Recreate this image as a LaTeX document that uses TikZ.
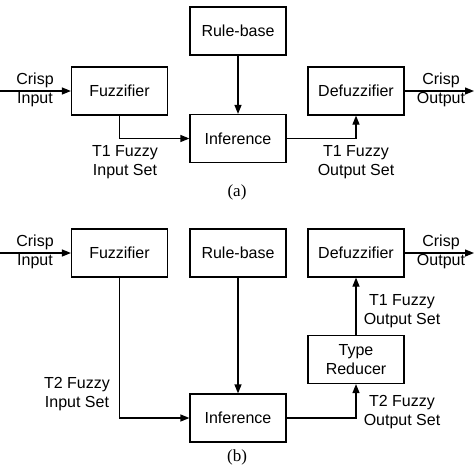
\documentclass[tikz,border=0pt]{standalone}
\usepackage{fontspec}
\setmainfont{Liberation Serif}
\setsansfont{Liberation Sans}
\usetikzlibrary{arrows.meta}
\begin{document}
\begin{tikzpicture}[x=1pt,y=-1pt,
  blk/.style={draw,line width=1.2pt,minimum width=96pt,minimum height=48pt,inner sep=0pt,align=center,font=\sffamily\fontsize{16}{19}\selectfont},
  lbl/.style={align=center,inner sep=0pt,font=\sffamily\fontsize{16}{19}\selectfont},
  captxt/.style={inner sep=0pt,font=\fontsize{17}{20}\selectfont},
  arr/.style={line width=1.2pt,-{Triangle[length=9pt,width=7pt]}}]
\useasboundingbox (0,0) rectangle (474,474);
% (a)
\node[blk] (rule1) at (238,31) {Rule-base};
\node[blk] (fuzz1) at (119.5,91) {Fuzzifier};
\node[blk] (inf1) at (238,138.5) {Inference};
\node[blk] (defz1) at (356,91) {Defuzzifier};
\coordinate (in1) at (0,91);
\coordinate (out1) at (474,91);
\draw[arr] (in1) -- (fuzz1.west);
\draw[arr] (defz1.east) -- (out1);
\draw[arr] (rule1.south) -- (inf1.north);
\draw[arr] (fuzz1.south) |- (inf1.west);
\draw[arr] (inf1.east) -| (defz1.south);
\node[lbl] (l1) at (35,90) {Crisp\\Input};
\node[lbl] (l2) at (441,90) {Crisp\\Output};
\node[lbl] (l3) at (125,162) {T1 Fuzzy\\Input Set};
\node[lbl] (l4) at (356,162) {T1 Fuzzy\\Output Set};
\node[captxt] (ca) at (237,192) {(a)};
% (b)
\node[blk] (fuzz2) at (119.5,253) {Fuzzifier};
\node[blk] (rule2) at (238,253) {Rule-base};
\node[blk] (defz2) at (356,253) {Defuzzifier};
\node[blk] (inf2) at (238,418) {Inference};
\node[blk] (tr2) at (356,359.5) {Type\\Reducer};
\coordinate (in2) at (0,253);
\coordinate (out2) at (474,253);
\draw[arr] (in2) -- (fuzz2.west);
\draw[arr] (defz2.east) -- (out2);
\draw[arr] (rule2.south) -- (inf2.north);
\draw[arr] (fuzz2.south) |- (inf2.west);
\draw[arr] (inf2.east) -| (tr2.south);
\draw[arr] (tr2.north) -- (defz2.south);
\node[lbl] (m1) at (35,252) {Crisp\\Input};
\node[lbl] (m2) at (441,252) {Crisp\\Output};
\node[lbl] (m3) at (77,394) {T2 Fuzzy\\Input Set};
\node[lbl] (m4) at (402,311) {T1 Fuzzy\\Output Set};
\node[lbl] (m5) at (402,412) {T2 Fuzzy\\Output Set};
\node[captxt] (cb) at (237,457) {(b)};
\end{tikzpicture}
\end{document}
